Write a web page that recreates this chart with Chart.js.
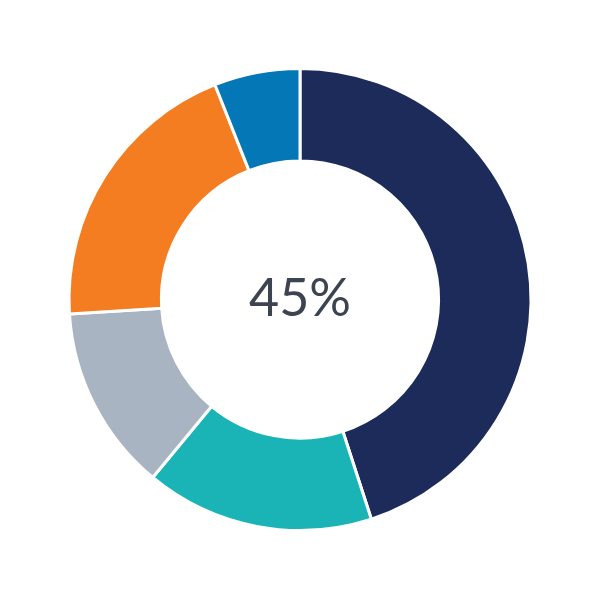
<!DOCTYPE html>
<html>
<head>
<meta charset="utf-8">
<script src="https://cdn.jsdelivr.net/npm/chart.js@4/dist/chart.umd.min.js"></script>
<style>
html,body{margin:0;padding:0;background:#fff;}
#wrap{position:relative;width:600px;height:599px;}
</style>
</head>
<body>
<div id="wrap"><canvas id="c" width="600" height="599"></canvas></div>
<script>
const categories = ["A", "B", "C", "D", "E"];
const values = [45, 16, 13, 20, 6];
const colors = ["#1c2b5a", "#1bb4b6", "#a9b4c2", "#f37d20", "#0477b7"];
const centerLabel = "45%";

const centerText = {
  id: 'centerText',
  afterDraw(chart) {
    const {ctx, chartArea} = chart;
    const cx = (chartArea.left + chartArea.right) / 2;
    const cy = (chartArea.top + chartArea.bottom) / 2;
    ctx.save();
    ctx.font = '52px Lato';
    ctx.fillStyle = '#3b4450';
    ctx.textAlign = 'center';
    ctx.textBaseline = 'middle';
    ctx.fillText(centerLabel, cx, cy);
    ctx.restore();
  }
};

new Chart(document.getElementById('c'), {
  type: 'doughnut',
  data: {
    labels: categories,
    datasets: [{
      data: values,
      backgroundColor: colors,
      borderColor: '#ffffff',
      borderWidth: 3
    }]
  },
  options: {
    responsive: false,
    animation: false,
    cutout: '60%',
    layout: { padding: 67 },
    plugins: {
      legend: { display: false },
      tooltip: { enabled: false }
    }
  },
  plugins: [centerText]
});
</script>
</body>
</html>
